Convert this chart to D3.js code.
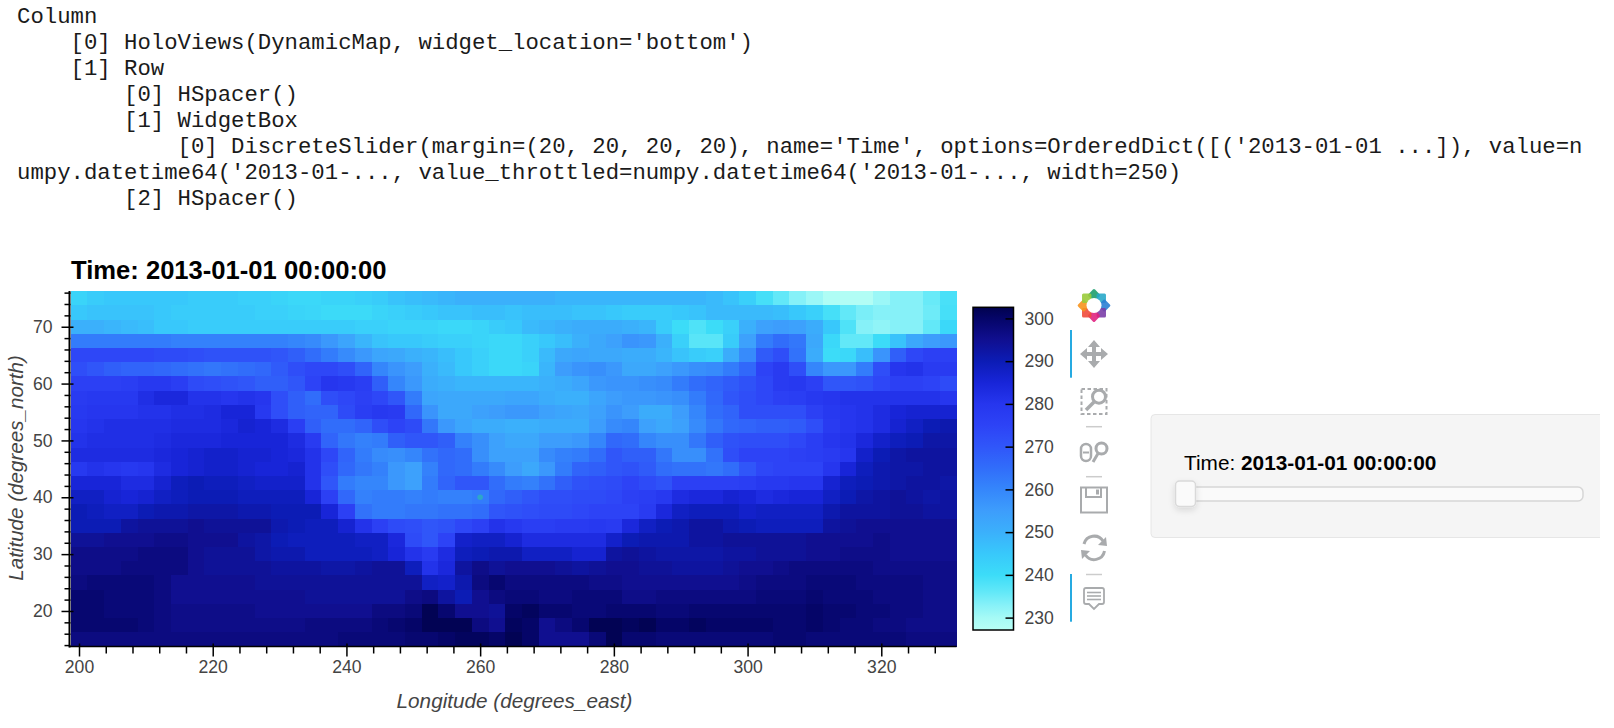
<!DOCTYPE html>
<html><head><meta charset="utf-8">
<style>html,body{margin:0;padding:0;background:#fff;overflow:hidden}svg{display:block}</style>
<script src="https://cdn.jsdelivr.net/npm/d3@7"></script></head>
<body><svg id="c" width="1614" height="728"></svg>
<script>
const reprLines = [
"Column",
"    [0] HoloViews(DynamicMap, widget_location='bottom')",
"    [1] Row",
"        [0] HSpacer()",
"        [1] WidgetBox",
"            [0] DiscreteSlider(margin=(20, 20, 20, 20), name='Time', options=OrderedDict([('2013-01-01 ...]), value=n",
"umpy.datetime64('2013-01-..., value_throttled=numpy.datetime64('2013-01-..., width=250)",
"        [2] HSpacer()"];
const titleText = "Time: 2013-01-01 00:00:00";
const xLabel = "Longitude (degrees_east)";
const yLabel = "Latitude (degrees_north)";
const sliderName = "Time: ";
const sliderValue = "2013-01-01 00:00:00";
const lonStart = 200, lonStep = 2.5;
const latitudes = [75,72.5,70,67.5,65,62.5,60,57.5,55,52.5,50,47.5,45,42.5,40,37.5,35,32.5,30,27.5,25,22.5,20,17.5,15];
const xMajor = [200,220,240,260,280,300,320];
const xMinor = [204,208,212,216,224,228,232,236,244,248,252,256,264,268,272,276,284,288,292,296,304,308,312,316,324,328];
const yMajor = [20,30,40,50,60,70];
const yMinor = [14,16,18,22,24,26,28,32,34,36,38,42,44,46,48,52,54,56,58,62,64,66,68,72,74,76];
const cbTicks = [230,240,250,260,270,280,290,300];
const cbDomain = [227.1,302.6];
const colorValues = [227.1,230,233,236,240,245,250,255,260,265,270,275,280,285,290,295,300,302.6];
const colorHexes = ["#b8fff5","#a5faf6","#86f1f8","#62e8f8","#3cdcf8","#38c8fb","#3bb0fb","#3d9dfc","#3586fb","#316dfa","#3056f9","#2d43f6","#2636ee","#1825d8","#0c1cb5","#100f90","#050568","#01024e"];
const logoColors=["#1e9e6e","#2aa9c9","#2a80d4","#7b3fa8","#e0217f","#ef4b3a","#f7941d","#9acb3c"];
const marker = [260,40];

const air75=[242,244,245,245,245,245,245,244,244,244,243,243,242,241,241,242,242,243,244,246,247,248,249,250,250,250,250,250,250,249,249,249,249,249,249,249,249,249,248,246,243,239,236,233,231,228.5,228,228,231,233,233,235.5,238.6];
const air72=[245,246,246,246,246,245,244,244,244,244,244,243,243,242,241.5,240.5,240.5,240.5,242,243,244,245,246,246,247,247,246,247,247,247,246,246,245,244,244,244,245,246,248,248,248,248,247,245,243,239,236,234,233,233,233,235,239];
const air70=[250,250,249,248,247,245,245,244,244,244,244,244,244,244,244,244,244,243,243,242,242,242,241,241,242,244,245,248,249,250,251,251,251,250,249,244,240,238,240,243,250,254,255,254,251,245,238,233,232,233,233,236,241];
const air67=[262,262,262,262,262,262,261,261,261,261,261,261,261,260,259,256,253,249,246,245,245,244,243,243,242,241,241,243,245,247,250,252,254,257,256,250,243,237,237,244,254,262,265,263,252,241,236,236,240,246,252,255,256];
const air65=[274,274,274,274,274,273,273,272,271,271,271,271,270,268,265,262,259,256,253,252,250,249,247,245,243,241,241,243,248,252,253,252,252,251,251,249,246,244,243,251,259,269,272,264,251,240,241,247,257,268,274,276,276];
const air62=[272,270,268,267,267,266,265,264,263,264,265,266,269,272,274,274,272,267,260,257,255,250,248,245,243,241,241,242,249,255,257,258,256,252,252,254,256,258,259,262,266,275,278,272,260,256,256,262,272,280,281,278,278];
const air60=[276,276,276,277,279,279,277,273,272,271,270,268,268,270,275,280,279,277,268,260,256,251,250,249,249,249,249,249,250,251,253,256,257,257,258,259,262,265,267,269,271,274,278,279,276,270,270,271,274,276,276,275,273];
const air57=[278,279,279,279,282,284,284,281,281,280,281,280,272,268,265,272,274,276,274,270,262,253,252,252,252,252,253,253,251,250,250,253,255,256,256,257,258,262,266,270,272,274,276,277,279,280,281,281,281,281,281,281,280];
const air55=[279,280,280,280,281,281,282,282,283,285,285,279,272,268,267,267,273,277,279,278,266,257,252,252,254,255,256,256,254,253,252,254,257,255,251,251,255,260,265,267,272,272,272,272,276,279,280,281,283,285,286,286,286];
const air52=[280,281,282,282,282,282,283,283,283,284,286,285,283,277,268,265,265,267,272,275,273,263,256,253,251,251,250,250,251,251,251,255,259,260,254,252,254,259,263,266,267,268,268,269,272,278,280,281,283,286,288,290,291];
const air50=[281,282,282,282,282,283,284,284,284,285,285,285,285,283,278,267,263,261,262,268,270,270,268,261,258,254,252,252,255,255,256,260,266,265,260,258,258,263,268,271,272,272,272,274,277,280,281,284,287,289,290,292,292];
const air47=[283,283,283,283,283,284,285,286,287,287,286,286,285,284,281,274,267,262,259,258,260,264,266,265,258,254,254,254,259,261,262,265,270,268,268,263,258,258,264,272,275,275,275,276,277,278,280,287,290,292,293,293,293];
const air45=[279,281,280,279,280,283,285,286,287,287,286,285,285,286,281,272,266,263,261,256,254,261,266,265,262,259,255,252,256,262,267,268,270,271,269,265,264,264,263,265,270,274,275,275,275,280,285,289,291,292,292,293,293];
const air42=[285,285,285,283,283,286,289,290,289,289,288,287,287,287,281,270,262,260,260,256,254,262,267,270,270,265,262,261,264,268,271,272,273,275,273,271,276,276,276,276,277,279,279,280,280,286,289,290,291,292,293,293,292];
const air40=[288,288,286,285,286,288,289,290,290,290,289,289,289,289,285,276,266,261,262,262,261,262,261,261,262,266,268,270,272,272,273,273,274,276,277,279,283,284,284,286,285,283,284,285,285,288,290,292,293,294,293,292,293];
const air37=[290,289,288,288,290,291,291,292,292,292,291,291,290,290,290,285,276,264,262,262,263,263,264,264,265,270,271,272,273,273,274,275,275,275,278,284,288,289,289,289,287,288,288,288,288,291,293,293,293,294,294,293,293];
const air35=[290,290,290,293,294,294,294,295,294,294,294,294,291,290,289,289,286,281,276,273,272,270,271,274,276,281,279,277,277,278,278,279,278,284,288,290,291,293,293,291,290,289,289,289,289,293,294,295,295,295,295,295,295];
const air32=[294,294,295,295,295,296,296,295,295,295,293,292,290,289,289,289,289,288,288,284,273,270,275,287,288,288,286,283,283,283,283,283,287,290,291,291,291,293,293,294,294,294,294,294,295,295,295,295,296,295,295,295,295];
const air30=[296,296,296,296,297,297,297,295,294,294,294,292,291,291,289,289,289,289,288,285,281,278,283,289,290,291,291,288,288,288,286,286,293,294,293,292,292,292,292,293,293,294,294,294,295,295,296,296,296,295,295,295,295];
const air27=[296,296,296,297,297,297,297,295,294,294,294,294,293,293,293,292,292,293,294,294,289,281,284,293,296,294,295,295,295,294,293,294,295,295,294,294,293,293,293,294,295,295,296,297,297,297,297,297,296,296,296,296,296];
const air25=[297,298,298,298,298,297,295,295,295,295,295,294,294,294,294,294,294,294,294,294,294,288,287,291,297,299,297,297,297,297,297,296,296,295,295,295,295,295,295,295,296,297,297,297,298,298,298,297,297,297,297,296,296];
const air22=[299,299,298,298,298,297,295,295,295,295,295,295,295,295,294,294,294,294,294,294,296,297,293,290,295,297,298,298,297,297,298,298,298,296,296,297,297,297,297,297,297,298,298,298,299,298,298,298,297,297,297,296,296];
const air20=[299,299,298,298,298,297,296,296,296,296,296,295,295,295,295,295,295,295,297,297,298,302,299,295,295,294,300,301,299,299,298,298,299,299,299,298,298,299,299,299,299,299,299,299,300,299,299,298,298,297,297,296,296];
const air17=[299,299,299,299,298,297,296,296,296,296,296,296,296,296,297,297,297,297,298,299,300,302,302,302,297,295,301,300,295,297,299,302,302,301,302,300,300,301,300,300,300,300,299,299,300,299,298,298,297,297,296,296,296];
const air15=[297,297,297,297,297,297,297,297,297,297,297,297,297,297,297,297,298,298,298,298,299,299,300,301,301,300,302,300,295,295,295,298,302,299,299,298,298,298,298,298,298,298,299,299,298,298,298,298,298,298,297,297,297];
const airRows=[air75,air72,air70,air67,air65,air62,air60,air57,air55,air52,air50,air47,air45,air42,air40,air37,air35,air32,air30,air27,air25,air22,air20,air17,air15];

const svg=d3.select("#c");
const repr=svg.append("g").attr("font-family","'Liberation Mono',monospace").attr("font-size",22.3).attr("fill","#1a1a1a");
repr.selectAll("text").data(reprLines).join("text").attr("x",17).attr("y",(d,i)=>23+i*26).style("white-space","pre").text(d=>d);

const x=d3.scaleLinear().domain([198.75,331.25]).range([70.65,956.5]);
const y=d3.scaleLinear().domain([76.25,13.75]).range([291.2,646.5]);
const color=d3.scaleLinear().domain(colorValues).range(colorHexes).clamp(true);
const tf="'Liberation Sans',Arial,sans-serif";

svg.append("text").attr("x",71).attr("y",279).attr("font-family",tf).attr("font-weight","bold").attr("font-size",25.6).attr("fill","#000").text(titleText);

const cells=latitudes.flatMap((la,r)=>airRows[r].map((v,c)=>({lon:lonStart+c*lonStep,lat:la,v})));
svg.append("g").attr("shape-rendering","crispEdges").selectAll("rect").data(cells).join("rect")
 .attr("x",d=>x(d.lon-1.25)).attr("y",d=>y(d.lat+1.25))
 .attr("width",d=>x(d.lon+1.25)-x(d.lon-1.25)+.5).attr("height",d=>y(d.lat-1.25)-y(d.lat+1.25)+.5)
 .attr("fill",d=>color(d.v));
svg.append("circle").attr("cx",x(marker[0])).attr("cy",y(marker[1])).attr("r",2.8).attr("fill","#2da7c9");

function style(g,w){g.select(".domain").remove();g.selectAll(".tick line").attr("stroke","#000").attr("stroke-width",w);}
const xg=svg.append("g").attr("transform","translate(0,646.5)");
xg.append("g").call(d3.axisBottom(x).tickValues(xMinor).tickSize(7).tickFormat("")).call(g=>style(g,1.5));
const xM=xg.append("g").call(d3.axisBottom(x).tickValues(xMajor).tickSize(10).tickPadding(4).tickFormat(d3.format("d"))).call(g=>style(g,1.5));
xM.selectAll(".tick line").attr("y1",-3);
xM.selectAll("text").attr("font-family",tf).attr("font-size",17.6).attr("fill","#444");
const yg=svg.append("g").attr("transform","translate(70.5,0)");
yg.append("g").call(d3.axisLeft(y).tickValues(yMinor).tickSize(6).tickFormat("")).call(g=>style(g,1.5));
const yM=yg.append("g").call(d3.axisLeft(y).tickValues(yMajor).tickSize(9).tickPadding(9).tickFormat(d3.format("d"))).call(g=>style(g,1.5));
yM.selectAll(".tick line").attr("x1",3);
yM.selectAll("text").attr("font-family",tf).attr("font-size",17.6).attr("fill","#444");
svg.append("line").attr("x1",69.5).attr("x2",69.5).attr("y1",291).attr("y2",647.5).attr("stroke","#000").attr("stroke-width",2);
svg.append("line").attr("x1",69).attr("x2",956.5).attr("y1",646.5).attr("y2",646.5).attr("stroke","#000").attr("stroke-width",1.5);
svg.append("text").attr("x",514.5).attr("y",708).attr("text-anchor","middle").attr("font-family",tf).attr("font-style","italic").attr("font-size",20.7).attr("fill","#444").text(xLabel);
svg.append("text").attr("transform","translate(23,468) rotate(-90)").attr("text-anchor","middle").attr("font-family",tf).attr("font-style","italic").attr("font-size",20.6).attr("fill","#444").text(yLabel);

const cbL=973,cbR=1013.5,cbT=307.3,cbB=630;
const cy=d3.scaleLinear().domain([cbDomain[1],cbDomain[0]]).range([cbT,cbB]);
const defs=svg.append("defs");
const gr=defs.append("linearGradient").attr("id","cb").attr("x1",0).attr("x2",0).attr("y1",0).attr("y2",1);
gr.selectAll("stop").data(colorValues.slice().reverse()).join("stop").attr("offset",d=>(cy(d)-cbT)/(cbB-cbT)).attr("stop-color",d=>color(d));
svg.append("rect").attr("x",cbL).attr("y",cbT).attr("width",cbR-cbL).attr("height",cbB-cbT).attr("fill","url(#cb)").attr("stroke","#000").attr("stroke-width",1.5);
const cg=svg.append("g").attr("transform",`translate(${cbR},0)`);
cg.call(d3.axisRight(cy).tickValues(cbTicks).tickSize(-8).tickPadding(18).tickFormat(d3.format("d")));
cg.select(".domain").remove();
cg.selectAll(".tick line").attr("stroke","#000").attr("stroke-width",1.5);
cg.selectAll("text").attr("font-family",tf).attr("font-size",17.6).attr("fill","#444").attr("x",11);

const ic="#a9abad";
const tb=svg.append("g");
[[330,377.7],[574,621.7]].forEach(b=>tb.append("rect").attr("x",1070).attr("y",b[0]).attr("width",2).attr("height",b[1]-b[0]).attr("fill","#26aae1"));
[426.7,476.7,574.5].forEach(v=>tb.append("line").attr("x1",1086).attr("x2",1102).attr("y1",v).attr("y2",v).attr("stroke","#ccc").attr("stroke-width",1.5));
defs.append("filter").attr("id","lb").append("feGaussianBlur").attr("stdDeviation",.6);
const logo=tb.append("g").attr("transform","translate(1094,305.5)").attr("filter","url(#lb)");
logo.selectAll("rect").data(logoColors).join("rect").attr("x",-4.7).attr("y",-15).attr("width",9.4).attr("height",9.4).attr("rx",1.5)
 .attr("transform",(d,i)=>`rotate(${i*45}) rotate(45 0 -10.3)`).attr("fill",d=>d).attr("opacity",.9);
logo.append("circle").attr("r",7.5).attr("fill","#fff");
tb.append("g").attr("transform","translate(1094,354)").append("path").attr("fill",ic)
 .attr("d","M0,-14L6,-7H2V-2H7V-6L14,0L7,6V2H2V7H6L0,14L-6,7H-2V2H-7V6L-14,0L-7,-6V-2H-2V-7H-6Z");
tb.append("rect").attr("x",1081.5).attr("y",389).attr("width",25).attr("height",25).attr("fill","none").attr("stroke",ic).attr("stroke-width",2).attr("stroke-dasharray","3.5 2.5");
tb.append("circle").attr("cx",1099).attr("cy",396.7).attr("r",6.5).attr("fill","#fff").attr("stroke",ic).attr("stroke-width",3);
tb.append("line").attr("x1",1094).attr("y1",402).attr("x2",1086).attr("y2",410).attr("stroke",ic).attr("stroke-width",3.5);
tb.append("rect").attr("x",1081).attr("y",444).attr("width",10).attr("height",17).attr("rx",5).attr("fill","none").attr("stroke",ic).attr("stroke-width",2.5);
tb.append("line").attr("x1",1083).attr("x2",1089).attr("y1",452.5).attr("y2",452.5).attr("stroke",ic).attr("stroke-width",2);
tb.append("circle").attr("cx",1101.5).attr("cy",448.5).attr("r",5.5).attr("fill","#fff").attr("stroke",ic).attr("stroke-width",3);
tb.append("line").attr("x1",1098).attr("y1",453.5).attr("x2",1093).attr("y2",462).attr("stroke",ic).attr("stroke-width",3);
tb.append("rect").attr("x",1081).attr("y",487.5).attr("width",26).attr("height",25).attr("fill","none").attr("stroke",ic).attr("stroke-width",2);
tb.append("path").attr("d","M1086,487.5V497H1101V487.5").attr("fill","none").attr("stroke",ic).attr("stroke-width",2);
tb.append("rect").attr("x",1096).attr("y",489.5).attr("width",3).attr("height",5).attr("fill",ic);
tb.append("path").attr("d","M1084,544A10.5,10.5 0 0 1 1103,541M1104.5,551A10.5,10.5 0 0 1 1085.5,555").attr("fill","none").attr("stroke",ic).attr("stroke-width",3);
tb.append("path").attr("d","M1098,545L1107,546L1106,537ZM1090,551L1081,550L1082,559Z").attr("fill",ic);
tb.append("path").attr("d","M1086,588H1102Q1104,588 1104,590V602Q1104,604 1102,604H1099L1094,609L1089,604H1086Q1084,604 1084,602V590Q1084,588 1086,588Z").attr("fill","#fff").attr("stroke",ic).attr("stroke-width",1.8);
[592.5,596,599.5].forEach(v=>tb.append("line").attr("x1",1087).attr("x2",1101).attr("y1",v).attr("y2",v).attr("stroke",ic).attr("stroke-width",1.6));

defs.append("filter").attr("id","sh").attr("x","-50%").attr("y","-50%").attr("width","200%").attr("height","200%").append("feDropShadow").attr("dx",0).attr("dy",3).attr("stdDeviation",3).attr("flood-color","#000").attr("flood-opacity",.12);
svg.append("rect").attr("x",1151).attr("y",414.5).attr("width",480).attr("height",123).attr("rx",4).attr("fill","#f5f5f5").attr("stroke","#e6e6e6");
svg.append("rect").attr("x",1600).attr("y",410).attr("width",14).attr("height",132).attr("fill","#fff");
const lab=svg.append("text").attr("x",1184).attr("y",470).attr("font-family",tf).attr("font-size",20.8).attr("fill","#000");
lab.append("tspan").text(sliderName);
lab.append("tspan").attr("font-weight","bold").text(sliderValue);
svg.append("rect").attr("x",1176).attr("y",487).attr("width",407).attr("height",14).attr("rx",5).attr("fill","#fafafa").attr("stroke","#d6d6d6").attr("stroke-width",1.5);
svg.append("rect").attr("x",1175.5).attr("y",481).attr("width",20).attr("height",25.5).attr("rx",4).attr("fill","#fafafa").attr("stroke","#d9d9d9").attr("stroke-width",1.5).attr("filter","url(#sh)");
</script></body></html>
